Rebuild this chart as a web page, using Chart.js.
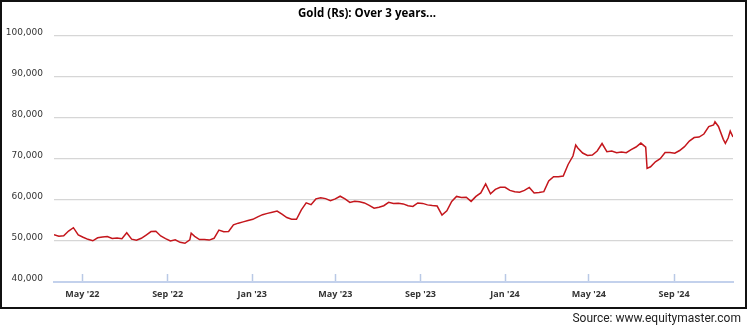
<!DOCTYPE html>
<html lang="en">
<head>
    <meta charset="UTF-8">
    <title>Gold (Rs): Over 3 years...</title>
    <script src="https://cdn.jsdelivr.net/npm/chart.js"></script>
    <style>
        body {
            margin: 0;
            background: #fff;
        }
        #frame {
            position: absolute;
            left: 0;
            top: 0;
            width: 743px;
            height: 305px;
            border: 2px solid #111;
            pointer-events: none;
        }
        #goldChart {
            position: absolute;
            left: 0;
            top: 0;
        }
        #title {
            position: absolute;
            left: 0;
            top: 6px;
            width: 734px;
            text-align: center;
            font: bold 11.5px "Open Sans", sans-serif;
            line-height: 14px;
            color: #000;
        }
        #source {
            position: absolute;
            right: 9px;
            top: 311px;
            font: 12px Roboto, sans-serif;
            line-height: 14px;
            color: #222;
        }
    </style>
</head>
<body>
    <canvas id="goldChart" width="750" height="310"></canvas>
    <div id="frame"></div>
    <div id="title">Gold (Rs): Over 3 years...</div>
    <div id="source">Source: www.equitymaster.com</div>

    <script>
        // weekly closing prices, plus a few turning points
        const dates = [
            '2022-03-21', '2022-03-28', '2022-04-04', '2022-04-11', '2022-04-18', '2022-04-25',
            '2022-05-02', '2022-05-09', '2022-05-16', '2022-05-23', '2022-05-30',
            '2022-06-06', '2022-06-13', '2022-06-20', '2022-06-27',
            '2022-07-04', '2022-07-11', '2022-07-18', '2022-07-25',
            '2022-08-01', '2022-08-08', '2022-08-15', '2022-08-22', '2022-08-29',
            '2022-09-05', '2022-09-12', '2022-09-19', '2022-09-26',
            '2022-10-03', '2022-10-05', '2022-10-10', '2022-10-17', '2022-10-24', '2022-10-31',
            '2022-11-07', '2022-11-14', '2022-11-21', '2022-11-28',
            '2022-12-05', '2022-12-12', '2022-12-19', '2022-12-26',
            '2023-01-02', '2023-01-09', '2023-01-16', '2023-01-23', '2023-01-30',
            '2023-02-06', '2023-02-13', '2023-02-20', '2023-02-27',
            '2023-03-06', '2023-03-13', '2023-03-20', '2023-03-27',
            '2023-04-03', '2023-04-10', '2023-04-17', '2023-04-24',
            '2023-05-01', '2023-05-08', '2023-05-15', '2023-05-22', '2023-05-29',
            '2023-06-05', '2023-06-12', '2023-06-19', '2023-06-26',
            '2023-07-03', '2023-07-10', '2023-07-17', '2023-07-24', '2023-07-31',
            '2023-08-07', '2023-08-14', '2023-08-21', '2023-08-28',
            '2023-09-04', '2023-09-11', '2023-09-18', '2023-09-25',
            '2023-10-02', '2023-10-09', '2023-10-16', '2023-10-23', '2023-10-30',
            '2023-11-06', '2023-11-13', '2023-11-20', '2023-11-27',
            '2023-12-04', '2023-12-11', '2023-12-18', '2023-12-25',
            '2024-01-01', '2024-01-08', '2024-01-15', '2024-01-22', '2024-01-29',
            '2024-02-05', '2024-02-12', '2024-02-19', '2024-02-26',
            '2024-03-04', '2024-03-11', '2024-03-18', '2024-03-25',
            '2024-04-01', '2024-04-08', '2024-04-12', '2024-04-15', '2024-04-22', '2024-04-29',
            '2024-05-06', '2024-05-13', '2024-05-20', '2024-05-27',
            '2024-06-03', '2024-06-10', '2024-06-17', '2024-06-24',
            '2024-07-01', '2024-07-08', '2024-07-15', '2024-07-22', '2024-07-24', '2024-07-29',
            '2024-08-05', '2024-08-12', '2024-08-19', '2024-08-26',
            '2024-09-02', '2024-09-09', '2024-09-16', '2024-09-23', '2024-09-30',
            '2024-10-07', '2024-10-14', '2024-10-21', '2024-10-28', '2024-10-30',
            '2024-11-04', '2024-11-11', '2024-11-14', '2024-11-18', '2024-11-21', '2024-11-25'
        ];

        const prices = [
            51510, 51140, 51270, 52430, 53250, 51510,
            50920, 50410, 50050, 50780, 50950,
            51070, 50610, 50710, 50540,
            52000, 50460, 50190, 50660,
            51460, 52290, 52360, 51220, 50580,
            50000, 50290, 49680, 49440,
            50290, 51900, 51140, 50340, 50340, 50220,
            50660, 52650, 52240, 52310,
            53940, 54350, 54670, 54990,
            55280, 55890, 56420, 56740, 57030,
            57300, 56540, 55720, 55330,
            55280, 57590, 59290, 58860,
            60270, 60560, 60340, 59850,
            60270, 60920, 60270, 59420, 59710,
            59590, 59290, 58690, 58000,
            58250, 58610, 59420, 59130, 59220,
            59050, 58610, 58440, 59290,
            59170, 58810, 58640, 58520,
            56300, 57350, 59660, 60880, 60630,
            60680, 59660, 60880, 61730,
            63920, 61530, 62580, 63110,
            63110, 62340, 62020, 61900, 62340,
            63070, 61730, 61850, 62040,
            64650, 65690, 65690, 65860,
            68660, 70730, 73400, 72680, 71460, 70860,
            70980, 71950, 73770, 71780,
            71950, 71540, 71700, 71540,
            72310, 72920, 73890, 72900, 67700, 68100,
            69320, 70070, 71580, 71580,
            71410, 72070, 73020, 74380, 75230,
            75360, 76090, 77910, 78300, 79100,
            77940, 74790, 73800, 75110, 76800, 75360
        ];

        const tickDates = ['2022-05-01', '2022-09-01', '2023-01-01', '2023-05-01',
                           '2023-09-01', '2024-01-01', '2024-05-01', '2024-09-01'];
        const tickLabels = ["May '22", "Sep '22", "Jan '23", "May '23",
                            "Sep '23", "Jan '24", "May '24", "Sep '24"];

        const yTicks = [40000, 50000, 60000, 70000, 80000, 90000, 100000];

        function dayNum(s) {
            const p = s.split('-').map(Number);
            return Date.UTC(p[0], p[1] - 1, p[2]) / 86400000;
        }

        const points = dates.map((d, i) => ({ x: dayNum(d), y: prices[i] }));

        new Chart(document.getElementById('goldChart'), {
            type: 'line',
            data: {
                datasets: [{
                    label: 'Gold',
                    data: points,
                    borderColor: '#c4161c',
                    borderWidth: 1.5,
                    pointRadius: 0,
                    tension: 0,
                    fill: false
                }]
            },
            options: {
                responsive: false,
                devicePixelRatio: 1,
                animation: false,
                layout: { padding: { left: 0, right: 17, top: 36, bottom: 0 } },
                plugins: {
                    legend: { display: false },
                    title: { display: false },
                    tooltip: { enabled: false }
                },
                scales: {
                    x: {
                        type: 'linear',
                        min: dayNum(dates[0]),
                        max: dayNum(dates[dates.length - 1]),
                        afterFit: scale => { scale.height = 28; },
                        afterBuildTicks: scale => {
                            scale.ticks = tickDates.map(d => ({ value: dayNum(d) }));
                        },
                        border: { display: true, color: '#c3d1ec', width: 2 },
                        grid: {
                            drawOnChartArea: false,
                            drawTicks: true,
                            tickLength: -8,
                            tickColor: '#b9c9e6',
                            tickWidth: 1.5
                        },
                        ticks: {
                            autoSkip: false,
                            maxRotation: 0,
                            padding: 15,
                            color: '#333',
                            font: { family: 'Open Sans', size: 9, weight: 'bold' },
                            callback: (v, i) => tickLabels[i]
                        }
                    },
                    y: {
                        min: 40000,
                        max: 100000,
                        afterFit: scale => { scale.width = 54; },
                        afterBuildTicks: scale => {
                            scale.ticks = yTicks.map(v => ({ value: v }));
                        },
                        border: { display: false },
                        grid: {
                            drawTicks: false,
                            lineWidth: 1.2,
                            color: c => c.tick.value === 40000 ? 'rgba(0,0,0,0)' : '#d6d6d6'
                        },
                        ticks: {
                            padding: 11,
                            labelOffset: -3,
                            color: '#333',
                            font: { family: 'DejaVu Sans', size: 9 },
                            callback: v => v.toLocaleString('en-US')
                        }
                    }
                }
            }
        });
    </script>
</body>
</html>
